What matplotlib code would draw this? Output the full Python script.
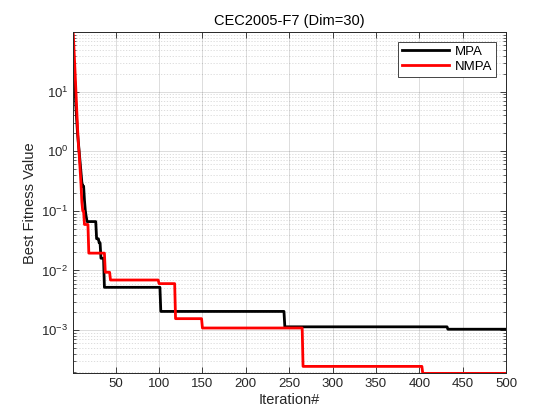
import numpy as np
import matplotlib
matplotlib.use("Agg")
import matplotlib.pyplot as plt
from matplotlib.ticker import LogLocator, NullFormatter, FixedLocator

# ---- data ----
# each value holds from its start iteration until the next start iteration
mpa_start = [1, 2, 3, 4, 5, 6, 7, 8, 9, 10, 11, 12, 14, 15, 16, 17, 28, 31, 33, 37, 102, 245, 433]
mpa_vals = [28, 20, 14, 6.0, 3.5, 2.0, 1.4, 0.95, 0.65, 0.45, 0.3, 0.26, 0.15, 0.1, 0.08,
            0.066, 0.034, 0.029, 0.016, 5.2e-3, 2.05e-3, 1.13e-3, 1.03e-3]

nmpa_start = [1, 2, 3, 4, 5, 6, 7, 8, 9, 10, 11, 12, 14, 19, 38, 44, 100, 119, 150, 266, 404]
nmpa_vals = [99, 50, 24, 11, 5.0, 2.5, 1.3, 0.85, 0.5, 0.28, 0.14, 0.1, 0.059, 0.0195,
             9.3e-3, 6.9e-3, 6.0e-3, 1.55e-3, 1.08e-3, 2.45e-4, 1.87e-4]

n_iter = 500
x_ticks = [50, 100, 150, 200, 250, 300, 350, 400, 450, 500]
title = "CEC2005-F7 (Dim=30)"
labels = ["MPA", "NMPA"]


def expand(starts, vals, n):
    starts = list(starts) + [n + 1]
    counts = np.diff(starts)
    return np.repeat(vals, counts)


it = np.arange(1, n_iter + 1)
mpa = expand(mpa_start, mpa_vals, n_iter)
nmpa = expand(nmpa_start, nmpa_vals, n_iter)

plt.rcParams['font.family'] = ['Liberation Sans', 'DejaVu Sans']
axc = (0.15, 0.15, 0.15)

fig = plt.figure(figsize=(5.6, 4.2), dpi=100)
ax = fig.add_axes([0.1307, 0.111, 0.9036 - 0.1307, 0.923 - 0.111])

ax.semilogy(it, mpa, color='k', lw=2.0, label=labels[0])
ax.semilogy(it, nmpa, color='r', lw=2.0, label=labels[1])

allv = np.concatenate([mpa, nmpa])
ax.set_xlim(1, n_iter)
ax.set_ylim(allv.min(), allv.max())

ax.xaxis.set_major_locator(FixedLocator(x_ticks))
ax.yaxis.set_major_locator(LogLocator(base=10, numticks=20))
ax.yaxis.set_minor_locator(LogLocator(base=10, subs=np.arange(2, 10), numticks=20))
ax.yaxis.set_minor_formatter(NullFormatter())

ax.grid(True, which='major', color=(0.15, 0.15, 0.15), alpha=0.18, lw=0.6)
ax.grid(True, which='minor', axis='y', color=(0.15, 0.15, 0.15), alpha=0.18,
        lw=0.6, linestyle=(0, (1.5, 2)))
ax.set_axisbelow(True)

ax.tick_params(which='both', direction='in', top=True, right=True, colors=axc,
               labelsize=9.5, labelcolor=axc)
ax.tick_params(which='major', length=4, width=0.6)
ax.tick_params(which='minor', length=2, width=0.5)
for s in ax.spines.values():
    s.set_color(axc)
    s.set_linewidth(0.7)

ax.set_title(title, fontsize=10.5, color='k', pad=5)
ax.set_xlabel("Iteration#", fontsize=10.5, color=axc, labelpad=2)
ax.set_ylabel("Best Fitness Value", fontsize=10.5, color=axc, labelpad=3)

leg = ax.legend(loc='upper right', bbox_to_anchor=(0.977, 0.972), fontsize=9.5,
                fancybox=False, framealpha=1, edgecolor=axc, borderpad=0.3,
                handlelength=3.6, handletextpad=0.4, labelspacing=0.2, borderaxespad=0)
leg.get_frame().set_linewidth(0.6)

fig.savefig("out.png", dpi=100)
